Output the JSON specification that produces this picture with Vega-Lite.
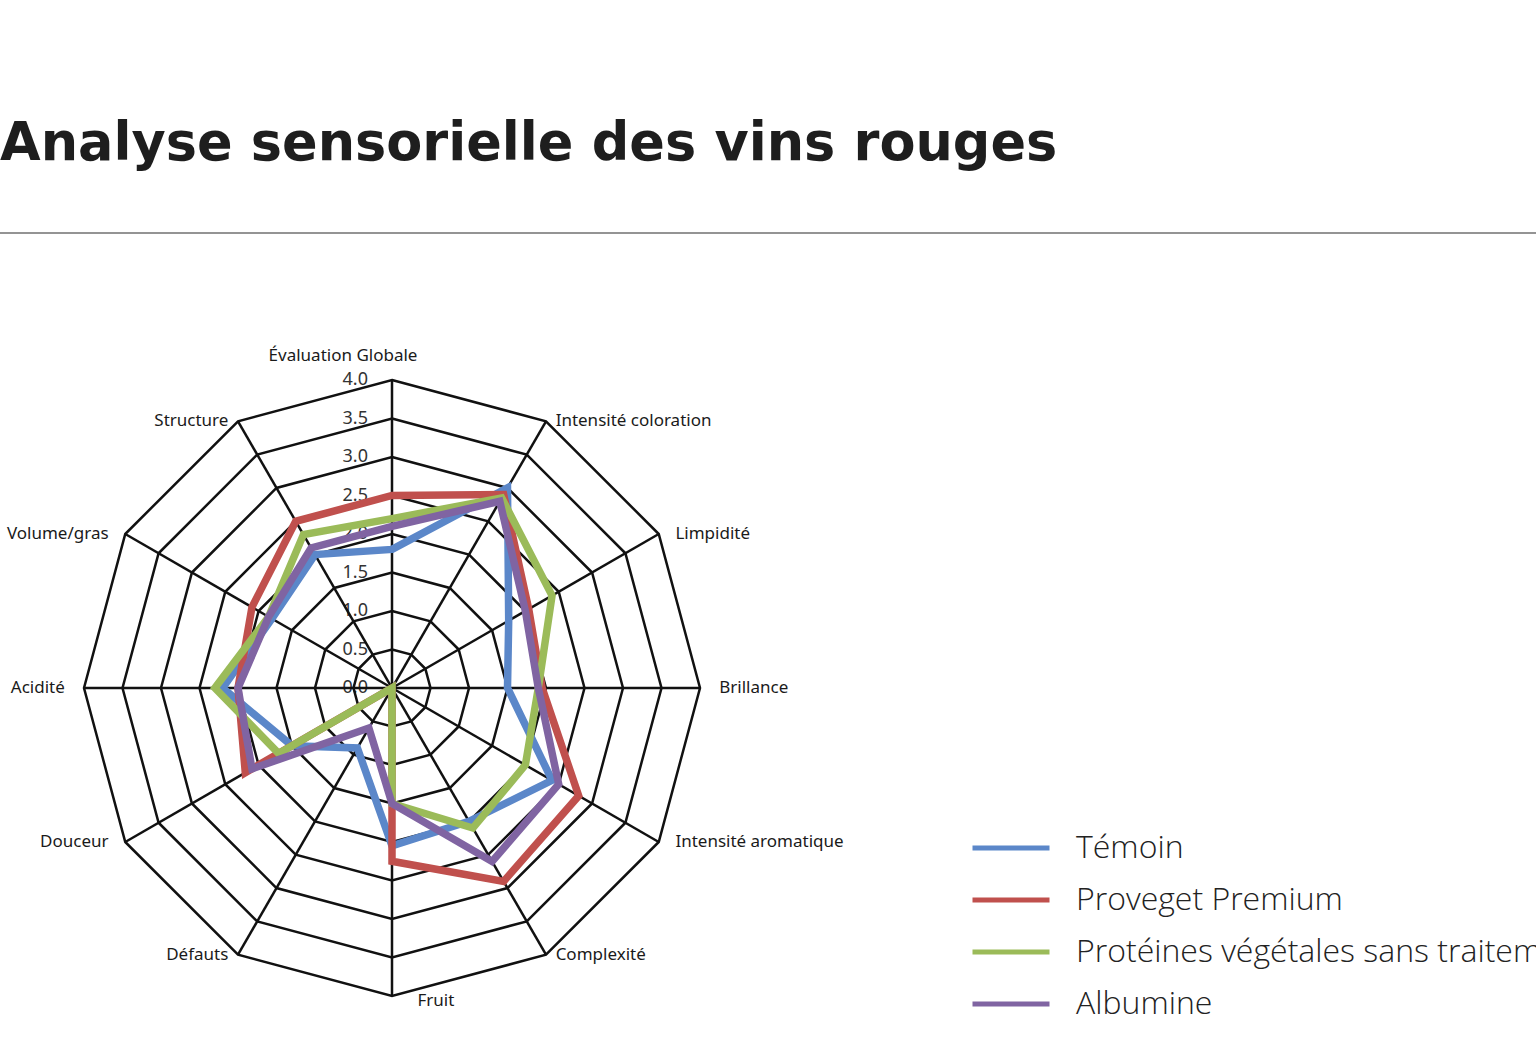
{
  "$schema": "https://vega.github.io/schema/vega-lite/v6.json",
  "width": 1536,
  "height": 825,
  "autosize": "none",
  "padding": {"left": 0, "top": 233, "right": 0, "bottom": 0},
  "background": "white",
  "config": {"view": {"stroke": null}},
  "title": {
    "text": "Analyse sensorielle des vins rouges",
    "anchor": "start",
    "frame": "group",
    "font": "DejaVu Sans",
    "fontSize": 52.5,
    "fontWeight": 700,
    "color": "#1e1e1e",
    "baseline": "alphabetic",
    "offset": 20
  },
  "datasets": {
    "criteres": [
      {"critere": "Évaluation Globale"},
      {"critere": "Intensité coloration"},
      {"critere": "Limpidité"},
      {"critere": "Brillance"},
      {"critere": "Intensité aromatique"},
      {"critere": "Complexité"},
      {"critere": "Fruit"},
      {"critere": "Défauts"},
      {"critere": "Douceur"},
      {"critere": "Acidité"},
      {"critere": "Volume/gras"},
      {"critere": "Structure"}
    ],
    "graduations": [
      {"niveau": 0}, {"niveau": 0.5}, {"niveau": 1}, {"niveau": 1.5}, {"niveau": 2},
      {"niveau": 2.5}, {"niveau": 3}, {"niveau": 3.5}, {"niveau": 4}
    ],
    "scores": [
      {"serie": "Témoin", "critere": "Évaluation Globale", "note": 1.8},
      {"serie": "Témoin", "critere": "Intensité coloration", "note": 3.0},
      {"serie": "Témoin", "critere": "Limpidité", "note": 1.75},
      {"serie": "Témoin", "critere": "Brillance", "note": 1.5},
      {"serie": "Témoin", "critere": "Intensité aromatique", "note": 2.4},
      {"serie": "Témoin", "critere": "Complexité", "note": 2.0},
      {"serie": "Témoin", "critere": "Fruit", "note": 2.05},
      {"serie": "Témoin", "critere": "Défauts", "note": 0.9},
      {"serie": "Témoin", "critere": "Douceur", "note": 1.5},
      {"serie": "Témoin", "critere": "Acidité", "note": 2.2},
      {"serie": "Témoin", "critere": "Volume/gras", "note": 1.8},
      {"serie": "Témoin", "critere": "Structure", "note": 2.0},
      {"serie": "Proveget Premium", "critere": "Évaluation Globale", "note": 2.5},
      {"serie": "Proveget Premium", "critere": "Intensité coloration", "note": 2.9},
      {"serie": "Proveget Premium", "critere": "Limpidité", "note": 2.05},
      {"serie": "Proveget Premium", "critere": "Brillance", "note": 1.95},
      {"serie": "Proveget Premium", "critere": "Intensité aromatique", "note": 2.8},
      {"serie": "Proveget Premium", "critere": "Complexité", "note": 2.9},
      {"serie": "Proveget Premium", "critere": "Fruit", "note": 2.25},
      {"serie": "Proveget Premium", "critere": "Défauts", "note": 0.0},
      {"serie": "Proveget Premium", "critere": "Douceur", "note": 2.2},
      {"serie": "Proveget Premium", "critere": "Acidité", "note": 2.0},
      {"serie": "Proveget Premium", "critere": "Volume/gras", "note": 2.1},
      {"serie": "Proveget Premium", "critere": "Structure", "note": 2.5},
      {"serie": "Protéines végétales sans traitement", "critere": "Évaluation Globale", "note": 2.2},
      {"serie": "Protéines végétales sans traitement", "critere": "Intensité coloration", "note": 2.85},
      {"serie": "Protéines végétales sans traitement", "critere": "Limpidité", "note": 2.4},
      {"serie": "Protéines végétales sans traitement", "critere": "Brillance", "note": 1.9},
      {"serie": "Protéines végétales sans traitement", "critere": "Intensité aromatique", "note": 2.0},
      {"serie": "Protéines végétales sans traitement", "critere": "Complexité", "note": 2.1},
      {"serie": "Protéines végétales sans traitement", "critere": "Fruit", "note": 1.5},
      {"serie": "Protéines végétales sans traitement", "critere": "Défauts", "note": 0.0},
      {"serie": "Protéines végétales sans traitement", "critere": "Douceur", "note": 1.7},
      {"serie": "Protéines végétales sans traitement", "critere": "Acidité", "note": 2.3},
      {"serie": "Protéines végétales sans traitement", "critere": "Volume/gras", "note": 1.85},
      {"serie": "Protéines végétales sans traitement", "critere": "Structure", "note": 2.3},
      {"serie": "Albumine", "critere": "Évaluation Globale", "note": 2.1},
      {"serie": "Albumine", "critere": "Intensité coloration", "note": 2.8},
      {"serie": "Albumine", "critere": "Limpidité", "note": 2.0},
      {"serie": "Albumine", "critere": "Brillance", "note": 1.9},
      {"serie": "Albumine", "critere": "Intensité aromatique", "note": 2.5},
      {"serie": "Albumine", "critere": "Complexité", "note": 2.6},
      {"serie": "Albumine", "critere": "Fruit", "note": 1.5},
      {"serie": "Albumine", "critere": "Défauts", "note": 0.6},
      {"serie": "Albumine", "critere": "Douceur", "note": 2.1},
      {"serie": "Albumine", "critere": "Acidité", "note": 2.0},
      {"serie": "Albumine", "critere": "Volume/gras", "note": 1.85},
      {"serie": "Albumine", "critere": "Structure", "note": 2.1}
    ]
  },
  "layer": [
    {
      "data": {"name": "graduations"},
      "transform": [{"calculate": "0", "as": "axe"}],
      "mark": {"type": "text", "align": "right", "baseline": "middle", "dx": -24, "font": "Noto Sans", "fontSize": 18, "color": "#333333"},
      "encoding": {
        "x": {"field": "axe", "type": "quantitative", "scale": {"domain": [-5.0909, 14.8571], "nice": false, "zero": false}, "axis": null},
        "y": {"field": "niveau", "type": "quantitative", "scale": {"domain": [-4.8052, 5.9091], "nice": false, "zero": false}, "axis": null},
        "text": {"field": "niveau", "type": "quantitative", "format": ".1f"}
      }
    },
    {
      "data": {"name": "criteres"},
      "transform": [
        {"window": [{"op": "row_number", "as": "rang"}]},
        {"calculate": "[0.5, 1, 1.5, 2, 2.5, 3, 3.5, 4]", "as": "anneau"},
        {"flatten": ["anneau"]},
        {"calculate": "(datum.rang - 1) * PI / 6", "as": "theta"},
        {"calculate": "datum.anneau * sin(datum.theta)", "as": "x"},
        {"calculate": "datum.anneau * cos(datum.theta)", "as": "y"}
      ],
      "mark": {"type": "line", "interpolate": "linear-closed", "stroke": "#111111", "strokeWidth": 2.5},
      "encoding": {
        "x": {"field": "x", "type": "quantitative", "scale": {"domain": [-5.0909, 14.8571], "nice": false, "zero": false}, "axis": null},
        "y": {"field": "y", "type": "quantitative", "scale": {"domain": [-4.8052, 5.9091], "nice": false, "zero": false}, "axis": null},
        "detail": {"field": "anneau", "type": "nominal"},
        "order": {"field": "rang", "type": "quantitative"}
      }
    },
    {
      "data": {"name": "criteres"},
      "transform": [
        {"window": [{"op": "row_number", "as": "rang"}]},
        {"calculate": "(datum.rang - 1) * PI / 6", "as": "theta"},
        {"calculate": "0", "as": "ox"},
        {"calculate": "0", "as": "oy"},
        {"calculate": "4 * sin(datum.theta)", "as": "ex"},
        {"calculate": "4 * cos(datum.theta)", "as": "ey"}
      ],
      "mark": {"type": "rule", "stroke": "#111111", "strokeWidth": 2.5},
      "encoding": {
        "x": {"field": "ox", "type": "quantitative", "scale": {"domain": [-5.0909, 14.8571], "nice": false, "zero": false}, "axis": null},
        "y": {"field": "oy", "type": "quantitative", "scale": {"domain": [-4.8052, 5.9091], "nice": false, "zero": false}, "axis": null},
        "x2": {"field": "ex"},
        "y2": {"field": "ey"}
      }
    },
    {
      "data": {"name": "scores"},
      "transform": [
        {"window": [{"op": "row_number", "as": "rang"}], "groupby": ["serie"]},
        {"calculate": "(datum.rang - 1) * PI / 6", "as": "theta"},
        {"calculate": "datum.note * sin(datum.theta)", "as": "x"},
        {"calculate": "datum.note * cos(datum.theta)", "as": "y"}
      ],
      "mark": {"type": "line", "interpolate": "linear-closed", "strokeWidth": 7.5},
      "encoding": {
        "x": {"field": "x", "type": "quantitative", "scale": {"domain": [-5.0909, 14.8571], "nice": false, "zero": false}, "axis": null},
        "y": {"field": "y", "type": "quantitative", "scale": {"domain": [-4.8052, 5.9091], "nice": false, "zero": false}, "axis": null},
        "order": {"field": "rang", "type": "quantitative"},
        "color": {
          "field": "serie",
          "type": "nominal",
          "scale": {
            "domain": ["Témoin", "Proveget Premium", "Protéines végétales sans traitement", "Albumine"],
            "range": ["#5b87c9", "#c0504d", "#9bbb59", "#8064a2"]
          },
          "legend": {
            "orient": "none",
            "legendX": 970,
            "legendY": 600,
            "title": null,
            "padding": 0,
            "symbolType": "stroke",
            "symbolSize": 5929,
            "symbolStrokeWidth": 5,
            "symbolOffset": 0,
            "clipHeight": 30,
            "rowPadding": 20,
            "labelOffset": 24,
            "labelLimit": 0,
            "labelFont": "Open Sans",
            "labelFontSize": 32,
            "labelFontWeight": 300,
            "labelColor": "#222222"
          }
        }
      }
    },
    {
      "data": {"name": "criteres"},
      "transform": [
        {"window": [{"op": "row_number", "as": "rang"}]},
        {"calculate": "(datum.rang - 1) * PI / 6", "as": "theta"},
        {"calculate": "4.25 * sin(datum.theta) + (abs(sin(datum.theta)) < 0.1 ? 0.33 : 0)", "as": "x"},
        {"calculate": "(cos(datum.theta) > 0.99 ? 4.2 : (cos(datum.theta) < -0.99 ? 4.06 : 4.0)) * cos(datum.theta)", "as": "y"},
        {"calculate": "sin(datum.theta) > 0.3 ? 'left' : (sin(datum.theta) < -0.3 ? 'right' : (cos(datum.theta) > 0 ? 'right' : 'left'))", "as": "cadrage"},
        {"calculate": "cos(datum.theta) > 0.99 ? 'bottom' : 'middle'", "as": "ligne"}
      ],
      "mark": {"type": "text", "font": "Noto Sans", "fontSize": 17, "color": "#1a1a1a", "align": {"expr": "datum.cadrage"}, "baseline": {"expr": "datum.ligne"}},
      "encoding": {
        "x": {"field": "x", "type": "quantitative", "scale": {"domain": [-5.0909, 14.8571], "nice": false, "zero": false}, "axis": null},
        "y": {"field": "y", "type": "quantitative", "scale": {"domain": [-4.8052, 5.9091], "nice": false, "zero": false}, "axis": null},
        "text": {"field": "critere", "type": "nominal"}
      }
    },
    {
      "data": {"name": "graduations"},
      "transform": [{"filter": "datum.niveau == 4"}, {"calculate": "5.9091", "as": "ligne_titre"}],
      "mark": {"type": "rule", "stroke": "#2a2a2a", "strokeWidth": 1.2},
      "encoding": {
        "y": {"field": "ligne_titre", "type": "quantitative", "scale": {"domain": [-4.8052, 5.9091], "nice": false, "zero": false}, "axis": null}
      }
    }
  ]
}
